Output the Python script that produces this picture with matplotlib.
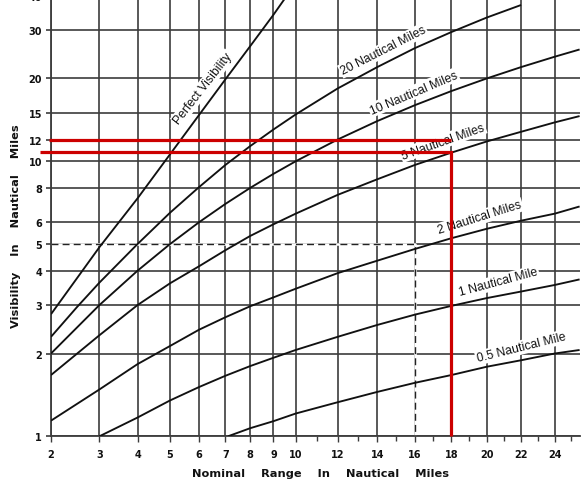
import numpy as np
import matplotlib
matplotlib.use("Agg")
import matplotlib.pyplot as plt
from matplotlib.ticker import NullFormatter, NullLocator

# ---------------- data ----------------
x_ticks = [2, 3, 4, 5, 6, 7, 8, 9, 10, 12, 14, 16, 18, 20, 22, 24]
x_minor = [11, 13, 15, 17, 19, 21, 23, 25]
y_ticks = [1, 2, 3, 4, 5, 6, 8, 10, 12, 15, 20, 30, 40]

perfect_x = [2, 3, 4, 5, 6, 7, 8, 9, 9.7]
perfect_y = [2.78, 4.87, 7.33, 10.6, 14.72, 19.87, 26.2, 34.1, 41.1]

v20_x = [2, 2.5, 3, 4, 5, 6, 7, 8, 9, 10, 12, 14, 16, 18, 20, 22]
v20_y = [2.3, 2.95, 3.62, 5.0, 6.5, 8.05, 9.7, 11.35, 13.05, 14.8, 18.4, 22.0, 25.8, 29.5, 33.3, 37.0]

range_x = [2, 3, 4, 5, 6, 7, 8, 9, 10, 12, 14, 16, 18, 20, 22, 24, 25.5]
v10_y = [2, 3, 4, 5, 6, 7, 8, 9, 10, 12, 14, 16, 18, 20, 22, 24, 25.5]
v5_y = [1.67, 2.33, 3.0, 3.6, 4.15, 4.75, 5.35, 5.9, 6.45, 7.55, 8.6, 9.7, 10.75, 11.8, 12.8, 13.85, 14.6]
v2_y = [1.14, 1.48, 1.83, 2.13, 2.44, 2.71, 2.97, 3.2, 3.44, 3.92, 4.35, 4.8, 5.25, 5.68, 6.08, 6.45, 6.85]

v1_x = [3, 4, 5, 6, 7, 8, 9, 10, 12, 14, 16, 18, 20, 22, 24, 25.5]
v1_y = [1.0, 1.17, 1.35, 1.51, 1.66, 1.8, 1.93, 2.06, 2.3, 2.54, 2.77, 2.98, 3.18, 3.36, 3.55, 3.72]

v05_x = [7.1, 8, 9, 10, 12, 14, 16, 18, 20, 22, 24, 25.5]
v05_y = [1.0, 1.07, 1.135, 1.21, 1.33, 1.45, 1.565, 1.67, 1.79, 1.89, 2.0, 2.06]

curve_labels = ["Perfect Visibility", "20 Nautical Miles", "10 Nautical Miles",
                "5 Nautical Miles", "2 Nautical Miles", "1 Nautical Mile",
                "0.5 Nautical Mile"]

dash_x = [2, 16, 16]
dash_y = [5, 5, 1]
red_upper_x = [1.97, 18]
red_upper_y = [12, 12]
red_lower_x = [1.82, 18, 18]
red_lower_y = [10.8, 10.8, 1]

# ---------------- figure ----------------
W, H = 584, 489
fig = plt.figure(figsize=(W / 100, H / 100), dpi=100)
ax = fig.add_axes([51 / W, (H - 437.3) / H, (579.6 - 51) / W, (437.3 + 3.3) / H])


def fwd(d):
    d = np.asarray(d, dtype=float)
    with np.errstate(all="ignore"):
        d = np.where(d > 1e-6, d, 1e-6)
        return 2 * np.log10(d) + 0.1301 * d


_g = np.geomspace(1e-4, 500, 40000)
_fg = fwd(_g)


def inv(f):
    return np.interp(f, _fg, _g)


ax.set_xscale("function", functions=(fwd, inv))
ax.set_yscale("log")
ax.set_xlim(2, 25.5)
ax.set_ylim(1, 40)

grid_c = "#3c3c3c"
curve_c = "#111111"

ax.set_axisbelow(True)
ax.set_xticks(x_ticks)
ax.set_xticklabels([str(t) for t in x_ticks])
ax.set_xticks(x_minor, minor=True)
ax.xaxis.set_minor_formatter(NullFormatter())
ax.set_yticks(y_ticks)
ax.set_yticklabels([str(t) for t in y_ticks])
ax.yaxis.set_minor_locator(NullLocator())
ax.yaxis.set_minor_formatter(NullFormatter())
ax.grid(True, which="major", color=grid_c, lw=1.2)
ax.grid(False, which="minor")

for s in ["top", "right"]:
    ax.spines[s].set_visible(False)
for s in ["left", "bottom"]:
    ax.spines[s].set_color(grid_c)
    ax.spines[s].set_linewidth(1.3)

ax.tick_params(axis="x", which="major", length=4, width=1, color=grid_c, pad=5)
ax.tick_params(axis="x", which="minor", length=3.5, width=1, color=grid_c)
ax.tick_params(axis="y", which="major", length=3.5, width=1.2, color=grid_c, pad=3)
for lab in ax.get_xticklabels() + ax.get_yticklabels():
    lab.set_fontfamily("DejaVu Sans")
    lab.set_fontweight("bold")
    lab.set_fontsize(7)
    lab.set_color("#111111")

# curves
for xs, ys in [(perfect_x, perfect_y), (v20_x, v20_y), (range_x, v10_y),
               (range_x, v5_y), (range_x, v2_y), (v1_x, v1_y), (v05_x, v05_y)]:
    ax.plot(xs, ys, color=curve_c, lw=1.35, zorder=3, solid_capstyle="butt")

# dashed example lines (replace grid segments)
ax.plot(dash_x, dash_y, color="white", lw=1.8, zorder=1.5)
ax.plot(dash_x, dash_y, color="#222222", lw=1.0, dashes=(5, 3), zorder=1.6)

# red lines
red = "#cc0000"
ax.plot(red_upper_x, red_upper_y, color=red, lw=2.3, zorder=5, clip_on=False,
        solid_capstyle="butt")
ax.plot(red_lower_x, red_lower_y, color=red, lw=2.3, zorder=5, clip_on=False,
        solid_capstyle="butt", solid_joinstyle="miter")

# curve labels (pixel placement, slightly above their curves)
label_pos = [(203.0, 89.0, 52), (383.2, 51.3, 27), (413.6, 93.4, 23),
             (443.0, 142.2, 19.5), (479.9, 218.4, 17.5), (498.5, 283.1, 15),
             (521.1, 348.4, 14)]
for txt, (px, py, rot) in zip(curve_labels, label_pos):
    ax.text(px / W, 1 - py / H, txt, transform=fig.transFigure, rotation=rot,
            rotation_mode="anchor", ha="center", va="center", fontsize=8.8,
            family="Liberation Sans", color="#111111", zorder=2.5,
            bbox=dict(boxstyle="square,pad=0.1", fc="white", ec="none"))

# axis titles
fig.text(321 / W, 1 - 474 / H, "Nominal    Range    In    Nautical    Miles",
         ha="center", va="center", fontsize=8.2, fontweight="bold",
         family="DejaVu Sans", color="#111111")
fig.text(16 / W, 1 - 226 / H, "Visibility    In    Nautical    Miles",
         ha="center", va="center", rotation=90, fontsize=8.2, fontweight="bold",
         family="DejaVu Sans", color="#111111")

fig.savefig("out.png", dpi=100)
